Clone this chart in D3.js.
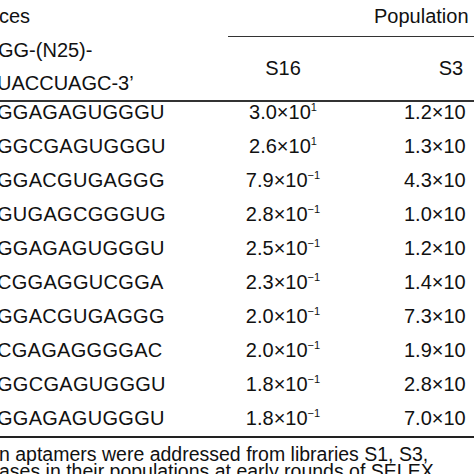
<!DOCTYPE html>
<html><head><meta charset="utf-8">
<script src="https://cdn.jsdelivr.net/npm/d3@7"></script>
<style>body{margin:0;background:#fff}svg{display:block}text{font-family:"Liberation Sans",Arial,sans-serif;fill:#111}</style>
</head><body><svg id="c" width="474" height="474"></svg>
<script>
const sequences = ["GGAGAGUGGGU","GGCGAGUGGGU","GGACGUGAGGG","GUGAGCGGGUG","GGAGAGUGGGU","CGGAGGUCGGA","GGACGUGAGGG","CGAGAGGGGAC","GGCGAGUGGGU","GGAGAGUGGGU"];
const s16Mant = [3.0,2.6,7.9,2.8,2.5,2.3,2.0,2.0,1.8,1.8];
const s16Exp = [1,1,-1,-1,-1,-1,-1,-1,-1,-1];
const s3Mant = [1.2,1.3,4.3,1.0,1.2,1.4,7.3,1.9,2.8,7.0];
const columns = ["S16","S3"];
const footnote = ["n aptamers were addressed from libraries S1, S3,","ases in their populations at early rounds of SELEX"];

const svg = d3.select("#c");
const y = d3.scaleBand().domain(d3.range(sequences.length)).range([95,435]);
const fs = 20;
const col = d3.scaleOrdinal().domain(["seq","S16","S3"]).range([-3,283,404]);

svg.append("text").attr("x",-1).attr("y",23).attr("font-size",fs).text("ces");
svg.append("text").attr("x",374).attr("y",23).attr("font-size",fs).text("Population");
svg.append("line").attr("x1",228).attr("x2",474).attr("y1",36.5).attr("y2",36.5).attr("stroke","#333").attr("stroke-width",1.2);
svg.append("text").attr("x",-2).attr("y",57).attr("font-size",fs).text("GG-(N25)-");
svg.append("text").attr("x",-3).attr("y",90).attr("font-size",fs).text("UACCUAGC-3\u2019");
svg.append("text").attr("x",col("S16")).attr("y",75).attr("text-anchor","middle").attr("font-size",fs).text(columns[0]);
svg.append("text").attr("x",451).attr("y",75).attr("text-anchor","middle").attr("font-size",fs).text(columns[1]);
svg.append("line").attr("x1",0).attr("x2",474).attr("y1",101).attr("y2",101).attr("stroke","#333").attr("stroke-width",2);
svg.append("line").attr("x1",0).attr("x2",474).attr("y1",437).attr("y2",437).attr("stroke","#222").attr("stroke-width",2);

const rows = svg.selectAll("g.r").data(sequences).join("g").attr("class","r")
  .attr("transform",(d,i)=>`translate(0,${y(i)+y.bandwidth()/2+7})`);
rows.append("text").attr("x",col("seq")).attr("font-size",fs).attr("letter-spacing",0.3).text(d=>d);
const v = rows.append("text").attr("x",col("S16")).attr("text-anchor","middle").attr("font-size",fs);
v.append("tspan").text((d,i)=>s16Mant[i].toFixed(1)+"\u00d710");
v.append("tspan").attr("dy",-8).attr("font-size",11).text((d,i)=>s16Exp[i]<0?"\u2212"+(-s16Exp[i]):s16Exp[i]);
rows.append("text").attr("x",col("S3")).attr("font-size",fs).text((d,i)=>s3Mant[i].toFixed(1)+"\u00d710");

svg.selectAll("text.f").data(footnote).join("text").attr("class","f")
  .attr("x",-1).attr("y",(d,i)=>461+i*17).attr("font-size",19.5).text(d=>d);
</script></body></html>
